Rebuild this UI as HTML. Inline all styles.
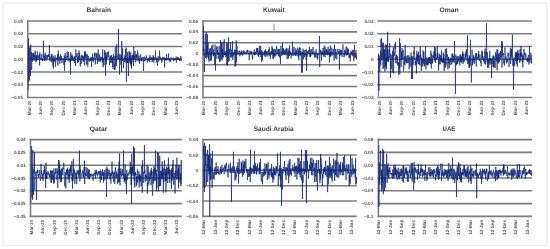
<!DOCTYPE html><html><head><meta charset="utf-8"><style>html,body{margin:0;padding:0;background:#fff;}svg{display:block;}text{font-family:"Liberation Sans",Arial,sans-serif;text-rendering:geometricPrecision;}</style></head><body>
<svg width="550" height="249" viewBox="0 0 550 249">
<rect x="0" y="0" width="550" height="249" fill="#fff"/>
<rect x="3.2" y="3.2" width="543.5" height="242.3" fill="none" stroke="#eeeeee" stroke-width="1.4"/>
<g stroke="#7d7d7d" stroke-width="1.6"><line x1="27.00" y1="20.95" x2="182.00" y2="20.95"/><line x1="27.00" y1="33.70" x2="182.00" y2="33.70"/><line x1="27.00" y1="46.45" x2="182.00" y2="46.45"/><line x1="27.00" y1="59.20" x2="182.00" y2="59.20"/><line x1="27.00" y1="71.95" x2="182.00" y2="71.95"/><line x1="27.00" y1="84.70" x2="182.00" y2="84.70"/><line x1="27.00" y1="97.45" x2="182.00" y2="97.45"/></g>
<line x1="27.80" y1="20.05" x2="27.80" y2="98.35" stroke="#7d7d7d" stroke-width="1.6"/>
<g font-size="4.7" font-weight="bold" fill="#595959" text-anchor="end"><text x="23.10" y="22.55">0.05</text><text x="23.10" y="35.30">0.03</text><text x="23.10" y="48.05">0.02</text><text x="23.10" y="60.80">0.00</text><text x="23.10" y="73.55">&#8722;0.02</text><text x="23.10" y="86.30">&#8722;0.03</text><text x="23.10" y="99.05">&#8722;0.05</text></g>
<g font-size="4.6" font-weight="bold" fill="#595959" text-anchor="end"><text transform="translate(30.60,100.40) rotate(-90)">Mar-20</text><text transform="translate(41.95,100.40) rotate(-90)">Jun-20</text><text transform="translate(53.30,100.40) rotate(-90)">Sep-20</text><text transform="translate(64.65,100.40) rotate(-90)">Dec-20</text><text transform="translate(76.00,100.40) rotate(-90)">Mar-21</text><text transform="translate(87.35,100.40) rotate(-90)">Jun-21</text><text transform="translate(98.70,100.40) rotate(-90)">Sep-21</text><text transform="translate(110.05,100.40) rotate(-90)">Dec-21</text><text transform="translate(121.40,100.40) rotate(-90)">Mar-22</text><text transform="translate(132.75,100.40) rotate(-90)">Jun-22</text><text transform="translate(144.10,100.40) rotate(-90)">Sep-22</text><text transform="translate(155.45,100.40) rotate(-90)">Dec-22</text><text transform="translate(166.80,100.40) rotate(-90)">Mar-23</text><text transform="translate(178.15,100.40) rotate(-90)">Jun-23</text></g>
<text x="98.80" y="12.20" font-size="6.6" font-weight="bold" fill="#404040" text-anchor="middle" textLength="24.4" lengthAdjust="spacingAndGlyphs">Bahrain</text>
<polyline fill="none" stroke="#0c2274" stroke-width="0.65" stroke-linejoin="round" points="28.10,90.00 28.32,52.00 28.54,38.40 28.77,81.80 28.99,47.00 29.21,61.16 29.43,80.00 29.65,50.00 29.88,48.00 30.10,57.04 30.32,58.07 30.54,76.00 30.76,44.50 30.99,58.84 31.21,55.86 31.43,52.00 31.65,70.00 31.87,59.93 32.10,56.88 32.32,61.72 32.54,57.19 32.76,53.18 32.98,56.85 33.21,53.40 33.43,56.89 33.65,59.00 33.87,52.53 34.09,60.96 34.32,54.79 34.54,55.97 34.76,59.54 34.98,57.95 35.20,50.56 35.42,54.10 35.65,61.27 35.87,62.05 36.09,55.03 36.31,55.88 36.53,61.42 36.76,56.06 36.98,59.82 37.20,51.46 37.42,52.90 37.64,55.04 37.87,60.33 38.09,57.54 38.31,55.45 38.53,56.14 38.75,58.17 38.98,57.71 39.20,55.67 39.42,54.01 39.64,65.51 39.86,52.33 40.09,57.48 40.31,59.84 40.53,59.00 40.75,58.11 40.97,58.89 41.20,59.43 41.42,58.72 41.64,54.21 41.86,54.21 42.08,60.91 42.31,58.54 42.53,58.70 42.75,61.16 42.97,59.66 43.19,56.22 43.42,40.80 43.64,57.42 43.86,54.30 44.08,57.33 44.30,60.80 44.53,55.77 44.75,60.92 44.97,59.30 45.19,52.67 45.41,54.86 45.64,54.94 45.86,59.54 46.08,54.74 46.30,57.30 46.52,58.13 46.75,60.61 46.97,58.49 47.19,56.33 47.41,55.52 47.63,58.38 47.85,54.81 48.08,54.96 48.30,56.69 48.52,54.25 48.74,56.90 48.96,56.00 49.19,54.85 49.41,45.00 49.63,60.50 49.85,56.38 50.07,57.20 50.30,61.25 50.52,58.75 50.74,58.30 50.96,57.70 51.18,55.60 51.41,54.21 51.63,62.25 51.85,55.40 52.07,54.14 52.29,57.19 52.52,58.34 52.74,60.03 52.96,66.46 53.18,55.71 53.40,68.50 53.63,58.61 53.85,60.87 54.07,60.49 54.29,57.50 54.51,60.36 54.74,62.07 54.96,58.38 55.18,55.25 55.40,66.73 55.62,64.53 55.85,59.34 56.07,59.61 56.29,58.30 56.51,57.81 56.73,60.17 56.96,60.16 57.18,57.37 57.40,59.10 57.62,53.93 57.84,65.71 58.07,60.52 58.29,50.46 58.51,54.62 58.73,60.54 58.95,60.66 59.18,58.47 59.40,59.31 59.62,56.56 59.84,63.97 60.06,58.86 60.28,59.93 60.51,54.38 60.73,60.36 60.95,59.41 61.17,59.60 61.39,57.58 61.62,56.13 61.84,62.98 62.06,62.88 62.28,60.60 62.50,58.37 62.73,58.64 62.95,58.25 63.17,59.81 63.39,60.22 63.61,59.24 63.84,64.82 64.06,61.48 64.28,55.53 64.50,71.00 64.72,62.21 64.95,58.43 65.17,52.83 65.39,62.19 65.61,59.60 65.83,57.40 66.06,56.18 66.28,58.78 66.50,60.11 66.72,60.19 66.94,58.39 67.17,51.58 67.39,57.22 67.61,55.94 67.83,60.28 68.05,61.45 68.28,58.16 68.50,52.00 68.72,55.03 68.94,55.56 69.16,60.14 69.39,59.06 69.61,60.17 69.83,58.70 70.05,62.38 70.27,58.82 70.50,74.60 70.72,52.13 70.94,58.84 71.16,60.68 71.38,60.96 71.61,56.17 71.83,57.42 72.05,54.28 72.27,60.91 72.49,56.63 72.72,59.14 72.94,58.24 73.16,57.56 73.38,58.35 73.60,60.90 73.82,60.04 74.05,60.80 74.27,56.27 74.49,63.01 74.71,57.70 74.93,57.30 75.16,56.65 75.38,58.68 75.60,66.00 75.82,49.35 76.04,57.03 76.27,55.55 76.49,56.81 76.71,57.31 76.93,56.57 77.15,52.96 77.38,63.09 77.60,58.07 77.82,60.29 78.04,61.71 78.26,56.12 78.49,62.07 78.71,55.61 78.93,50.47 79.15,59.23 79.37,60.29 79.60,52.82 79.82,56.29 80.04,56.15 80.26,66.50 80.48,62.26 80.71,58.89 80.93,58.31 81.15,63.98 81.37,55.16 81.59,56.23 81.82,60.17 82.04,58.23 82.26,55.40 82.48,55.57 82.70,57.64 82.93,55.87 83.15,61.72 83.37,56.42 83.59,61.66 83.81,57.19 84.04,58.71 84.26,57.04 84.48,51.20 84.70,65.47 84.92,60.32 85.15,53.86 85.37,55.27 85.59,51.53 85.81,57.62 86.03,53.52 86.25,58.13 86.48,57.57 86.70,64.61 86.92,55.01 87.14,56.36 87.36,54.46 87.59,58.72 87.81,66.73 88.03,57.01 88.25,57.47 88.47,56.27 88.70,60.56 88.92,61.49 89.14,60.48 89.36,59.11 89.58,61.42 89.81,59.24 90.03,58.67 90.25,58.05 90.47,60.86 90.69,58.34 90.92,59.83 91.14,57.16 91.36,60.75 91.58,67.02 91.80,59.65 92.03,56.93 92.25,61.30 92.47,53.60 92.69,58.39 92.91,59.14 93.14,57.70 93.36,57.90 93.58,61.69 93.80,59.61 94.02,57.47 94.25,58.72 94.47,53.32 94.69,56.24 94.91,52.47 95.13,58.12 95.36,64.44 95.58,57.95 95.80,58.22 96.02,58.84 96.24,53.21 96.47,57.98 96.69,55.58 96.91,56.31 97.13,53.29 97.35,63.94 97.58,58.06 97.80,60.39 98.02,60.50 98.24,49.48 98.46,57.00 98.68,58.35 98.91,61.85 99.13,60.57 99.35,54.56 99.57,57.38 99.79,61.54 100.02,60.31 100.24,59.68 100.46,60.92 100.68,61.60 100.90,56.52 101.13,60.36 101.35,57.07 101.57,58.03 101.79,58.76 102.01,59.85 102.24,57.52 102.46,62.45 102.68,49.30 102.90,57.27 103.12,67.35 103.35,59.92 103.57,58.48 103.79,62.04 104.01,65.21 104.23,59.78 104.46,56.47 104.68,49.97 104.90,59.10 105.12,55.20 105.34,51.90 105.57,75.80 105.79,56.75 106.01,61.77 106.23,52.75 106.45,64.34 106.68,55.54 106.90,58.31 107.12,58.78 107.34,57.02 107.56,52.21 107.79,55.69 108.01,56.91 108.23,57.28 108.45,55.07 108.67,51.41 108.90,57.10 109.12,56.91 109.34,57.77 109.56,65.12 109.78,59.04 110.01,57.29 110.23,55.73 110.45,62.62 110.67,60.44 110.89,56.38 111.12,60.42 111.34,54.83 111.56,58.54 111.78,63.00 112.00,59.81 112.22,60.37 112.45,57.17 112.67,66.83 112.89,61.20 113.11,69.01 113.33,53.96 113.56,55.54 113.78,60.35 114.00,57.11 114.22,56.21 114.44,70.00 114.67,64.21 114.89,64.40 115.11,69.58 115.33,47.35 115.55,65.83 115.78,55.84 116.00,57.78 116.22,62.73 116.44,66.00 116.66,44.50 116.89,54.69 117.11,56.80 117.33,55.48 117.55,58.65 117.77,59.69 118.00,59.59 118.22,59.35 118.44,29.00 118.66,59.05 118.88,54.53 119.11,53.72 119.33,56.10 119.55,74.60 119.77,57.73 119.99,57.78 120.22,54.34 120.44,59.69 120.66,58.87 120.88,64.59 121.10,62.98 121.33,55.51 121.55,72.00 121.77,41.00 121.99,57.97 122.21,60.98 122.44,52.02 122.66,48.37 122.88,60.33 123.10,59.23 123.32,60.54 123.55,68.00 123.77,61.16 123.99,60.19 124.21,57.62 124.43,58.20 124.65,62.03 124.88,55.39 125.10,57.90 125.32,59.76 125.54,49.00 125.76,60.31 125.99,62.91 126.21,47.66 126.43,81.80 126.65,62.46 126.87,59.35 127.10,57.90 127.32,62.68 127.54,52.17 127.76,63.16 127.98,60.29 128.21,58.54 128.43,76.00 128.65,60.11 128.87,56.45 129.09,50.90 129.32,60.34 129.54,52.32 129.76,62.63 129.98,56.74 130.20,61.16 130.43,63.99 130.65,52.74 130.87,52.37 131.09,66.00 131.31,58.42 131.54,68.50 131.76,57.62 131.98,55.50 132.20,58.60 132.42,59.16 132.65,55.04 132.87,58.19 133.09,62.51 133.31,53.45 133.53,66.00 133.76,46.90 133.98,57.27 134.20,58.52 134.42,56.02 134.64,59.49 134.87,53.78 135.09,50.93 135.31,60.25 135.53,62.29 135.75,59.65 135.98,54.43 136.20,58.41 136.42,54.43 136.64,56.69 136.86,55.38 137.08,61.30 137.31,58.37 137.53,50.50 137.75,54.14 137.97,53.08 138.19,56.71 138.42,59.32 138.64,60.55 138.86,55.51 139.08,61.61 139.30,58.01 139.53,64.00 139.75,60.45 139.97,61.33 140.19,57.61 140.41,57.51 140.64,54.48 140.86,55.71 141.08,60.87 141.30,57.71 141.52,58.49 141.75,61.21 141.97,57.99 142.19,58.29 142.41,59.17 142.63,57.10 142.86,57.89 143.08,57.07 143.30,62.56 143.52,71.00 143.74,59.08 143.97,60.63 144.19,61.11 144.41,56.57 144.63,58.53 144.85,59.52 145.08,61.15 145.30,58.09 145.52,57.77 145.74,57.77 145.96,58.36 146.19,58.26 146.41,55.55 146.63,59.69 146.85,59.40 147.07,59.73 147.30,62.35 147.52,58.81 147.74,60.11 147.96,58.28 148.18,57.92 148.41,59.51 148.63,61.14 148.85,57.82 149.07,58.74 149.29,57.56 149.52,60.00 149.74,62.05 149.96,55.27 150.18,58.75 150.40,59.76 150.62,59.05 150.85,59.54 151.07,56.97 151.29,58.54 151.51,59.52 151.73,57.75 151.96,59.58 152.18,62.24 152.40,59.65 152.62,58.26 152.84,60.02 153.07,55.11 153.29,60.04 153.51,56.51 153.73,62.76 153.95,60.26 154.18,57.04 154.40,59.24 154.62,58.94 154.84,60.27 155.06,58.68 155.29,58.97 155.51,50.50 155.73,58.82 155.95,57.99 156.17,57.62 156.40,60.26 156.62,62.41 156.84,57.90 157.06,58.92 157.28,59.41 157.51,66.00 157.73,58.68 157.95,58.88 158.17,56.24 158.39,58.05 158.62,61.80 158.84,61.09 159.06,60.98 159.28,59.81 159.50,50.50 159.73,58.81 159.95,58.82 160.17,56.85 160.39,57.90 160.61,59.75 160.84,59.03 161.06,58.56 161.28,57.96 161.50,58.45 161.72,62.69 161.95,59.59 162.17,60.64 162.39,59.76 162.61,57.58 162.83,58.73 163.05,57.23 163.28,58.94 163.50,58.86 163.72,58.71 163.94,56.81 164.16,59.37 164.39,59.64 164.61,67.30 164.83,58.15 165.05,60.42 165.27,57.96 165.50,59.91 165.72,57.92 165.94,59.16 166.16,60.54 166.38,57.97 166.61,54.00 166.83,59.93 167.05,59.30 167.27,60.13 167.49,58.74 167.72,58.06 167.94,57.85 168.16,57.73 168.38,59.74 168.60,53.40 168.83,59.12 169.05,58.41 169.27,61.50 169.49,60.30 169.71,58.63 169.94,61.05 170.16,59.07 170.38,59.37 170.60,62.11 170.82,60.28 171.05,57.27 171.27,59.03 171.49,58.32 171.71,58.90 171.93,59.42 172.16,58.98 172.38,59.21 172.60,59.12 172.82,58.27 173.04,58.68 173.27,57.74 173.49,60.84 173.71,59.25 173.93,60.41 174.15,58.85 174.38,60.14 174.60,58.23 174.82,58.48 175.04,60.25 175.26,58.61 175.48,59.43 175.71,58.82 175.93,58.95 176.15,56.48 176.37,62.70 176.59,60.76 176.82,58.50 177.04,59.00 177.26,59.02 177.48,56.94 177.70,59.21 177.93,58.34 178.15,59.46 178.37,58.13 178.59,57.26 178.81,58.57 179.04,59.70 179.26,59.98 179.48,61.03 179.70,59.31 179.92,57.96 180.15,60.98 180.37,58.80 180.59,58.96 180.81,55.93 181.03,57.30 181.26,58.24 181.48,60.79 181.70,60.32"/>
<g stroke="#7d7d7d" stroke-width="1.6"><line x1="202.20" y1="20.95" x2="357.00" y2="20.95"/><line x1="202.20" y1="31.89" x2="357.00" y2="31.89"/><line x1="202.20" y1="42.82" x2="357.00" y2="42.82"/><line x1="202.20" y1="53.76" x2="357.00" y2="53.76"/><line x1="202.20" y1="64.69" x2="357.00" y2="64.69"/><line x1="202.20" y1="75.63" x2="357.00" y2="75.63"/><line x1="202.20" y1="86.56" x2="357.00" y2="86.56"/><line x1="202.20" y1="97.50" x2="357.00" y2="97.50"/></g>
<line x1="203.00" y1="20.05" x2="203.00" y2="98.40" stroke="#7d7d7d" stroke-width="1.6"/>
<g font-size="4.7" font-weight="bold" fill="#595959" text-anchor="end"><text x="198.00" y="22.55">0.06</text><text x="198.00" y="33.49">0.04</text><text x="198.00" y="44.42">0.02</text><text x="198.00" y="55.36">0</text><text x="198.00" y="66.29">&#8722;0.02</text><text x="198.00" y="77.23">&#8722;0.04</text><text x="198.00" y="88.16">&#8722;0.06</text><text x="198.00" y="99.10">&#8722;0.08</text></g>
<g font-size="4.6" font-weight="bold" fill="#595959" text-anchor="end"><text transform="translate(205.30,100.40) rotate(-90)">Mar-20</text><text transform="translate(216.70,100.40) rotate(-90)">Jun-20</text><text transform="translate(228.10,100.40) rotate(-90)">Sep-20</text><text transform="translate(239.50,100.40) rotate(-90)">Dec-20</text><text transform="translate(250.90,100.40) rotate(-90)">Mar-21</text><text transform="translate(262.30,100.40) rotate(-90)">Jun-21</text><text transform="translate(273.70,100.40) rotate(-90)">Sep-21</text><text transform="translate(285.10,100.40) rotate(-90)">Dec-21</text><text transform="translate(296.50,100.40) rotate(-90)">Mar-22</text><text transform="translate(307.90,100.40) rotate(-90)">Jun-22</text><text transform="translate(319.30,100.40) rotate(-90)">Sep-22</text><text transform="translate(330.70,100.40) rotate(-90)">Dec-22</text><text transform="translate(342.10,100.40) rotate(-90)">Mar-23</text><text transform="translate(353.50,100.40) rotate(-90)">Jun-23</text></g>
<text x="273.80" y="12.00" font-size="6.6" font-weight="bold" fill="#404040" text-anchor="middle" textLength="21.8" lengthAdjust="spacingAndGlyphs">Kuwait</text>
<polyline fill="none" stroke="#0c2274" stroke-width="0.65" stroke-linejoin="round" points="203.30,55.83 203.52,25.60 203.74,50.51 203.97,49.20 204.19,49.29 204.41,72.00 204.63,54.56 204.85,54.37 205.07,47.73 205.30,33.84 205.52,57.94 205.74,56.81 205.96,52.54 206.18,51.15 206.40,32.00 206.63,58.69 206.85,46.32 207.07,45.96 207.29,53.55 207.51,34.40 207.73,56.94 207.96,42.71 208.18,42.00 208.40,59.72 208.62,53.13 208.84,52.49 209.06,61.77 209.29,51.21 209.51,52.46 209.73,48.59 209.95,50.29 210.17,54.34 210.39,60.90 210.62,48.21 210.84,51.94 211.06,54.99 211.28,51.79 211.50,60.47 211.72,45.65 211.95,50.28 212.17,53.51 212.39,52.53 212.61,48.84 212.83,44.61 213.05,55.46 213.28,56.19 213.50,53.00 213.72,49.50 213.94,55.50 214.16,52.21 214.38,56.05 214.61,64.50 214.83,56.00 215.05,44.52 215.27,45.33 215.49,70.50 215.71,54.69 215.94,55.34 216.16,58.62 216.38,49.42 216.60,46.51 216.82,52.55 217.04,52.15 217.27,54.21 217.49,50.53 217.71,54.60 217.93,46.30 218.15,58.83 218.37,56.07 218.60,52.22 218.82,53.53 219.04,54.86 219.26,57.09 219.48,61.89 219.70,45.91 219.93,46.74 220.15,49.70 220.37,61.36 220.59,40.40 220.81,46.41 221.03,55.94 221.26,59.27 221.48,42.75 221.70,52.55 221.92,50.04 222.14,60.45 222.36,49.22 222.59,57.05 222.81,46.94 223.03,41.96 223.25,51.76 223.47,57.48 223.69,51.02 223.92,47.92 224.14,39.35 224.36,39.39 224.58,55.33 224.80,52.01 225.02,54.96 225.25,50.85 225.47,55.23 225.69,57.17 225.91,52.94 226.13,54.84 226.35,55.28 226.58,42.13 226.80,64.90 227.02,55.69 227.24,49.84 227.46,65.70 227.68,43.52 227.91,52.85 228.13,53.70 228.35,61.79 228.57,37.30 228.79,56.86 229.01,59.27 229.24,61.15 229.46,48.86 229.68,52.38 229.90,53.52 230.12,51.11 230.34,48.67 230.57,42.22 230.79,57.51 231.01,53.63 231.23,57.11 231.45,51.41 231.67,49.63 231.90,54.97 232.12,57.76 232.34,55.52 232.56,41.00 232.78,60.04 233.00,54.99 233.23,52.73 233.45,53.37 233.67,55.48 233.89,53.79 234.11,52.07 234.33,54.24 234.56,49.64 234.78,53.26 235.00,66.70 235.22,51.96 235.44,51.73 235.66,49.85 235.89,65.71 236.11,40.39 236.33,46.19 236.55,62.00 236.77,49.91 236.99,45.85 237.22,52.23 237.44,54.39 237.66,50.72 237.88,50.95 238.10,53.43 238.32,53.79 238.55,52.92 238.77,54.45 238.99,54.01 239.21,50.84 239.43,51.75 239.65,50.80 239.88,56.38 240.10,53.59 240.32,52.50 240.54,54.26 240.76,54.18 240.98,51.51 241.21,51.57 241.43,54.64 241.65,50.61 241.87,51.30 242.09,50.90 242.32,53.53 242.54,55.79 242.76,55.83 242.98,54.36 243.20,52.00 243.42,50.61 243.65,50.84 243.87,53.54 244.09,50.70 244.31,54.20 244.53,51.93 244.75,51.79 244.98,52.53 245.20,53.89 245.42,53.17 245.64,52.23 245.86,52.13 246.08,52.12 246.31,54.18 246.53,51.28 246.75,52.41 246.97,49.80 247.19,50.29 247.41,50.01 247.64,52.80 247.86,50.52 248.08,50.57 248.30,54.21 248.52,53.98 248.74,53.01 248.97,54.08 249.19,60.20 249.41,55.48 249.63,51.70 249.85,50.68 250.07,50.56 250.30,51.00 250.52,54.46 250.74,51.69 250.96,53.19 251.18,53.85 251.40,51.92 251.63,53.51 251.85,51.03 252.07,56.91 252.29,56.50 252.51,59.48 252.73,58.17 252.96,54.83 253.18,54.64 253.40,52.46 253.62,52.09 253.84,54.20 254.06,53.56 254.29,49.29 254.51,52.77 254.73,55.40 254.95,53.23 255.17,54.61 255.39,51.93 255.62,53.77 255.84,53.67 256.06,51.55 256.28,53.76 256.50,47.93 256.72,51.25 256.95,52.37 257.17,48.44 257.39,52.03 257.61,48.49 257.83,48.17 258.05,55.74 258.28,50.90 258.50,57.11 258.72,56.21 258.94,52.58 259.16,54.99 259.38,45.73 259.61,53.11 259.83,52.89 260.05,52.66 260.27,51.34 260.49,54.70 260.71,45.80 260.94,57.04 261.16,52.52 261.38,50.02 261.60,62.00 261.82,51.39 262.04,53.90 262.27,53.57 262.49,60.28 262.71,51.64 262.93,55.40 263.15,54.06 263.37,53.63 263.60,53.87 263.82,54.33 264.04,51.58 264.26,52.51 264.48,51.28 264.70,56.39 264.93,50.29 265.15,53.87 265.37,52.68 265.59,49.45 265.81,56.96 266.03,55.26 266.26,51.26 266.48,54.07 266.70,55.20 266.92,55.00 267.14,51.28 267.36,51.19 267.59,53.39 267.81,56.33 268.03,56.54 268.25,51.72 268.47,49.52 268.69,54.05 268.92,53.32 269.14,53.78 269.36,47.46 269.58,53.66 269.80,55.93 270.02,52.84 270.25,58.78 270.47,57.30 270.69,52.29 270.91,54.81 271.13,52.41 271.35,51.00 271.58,54.18 271.80,53.77 272.02,46.14 272.24,53.70 272.46,48.23 272.68,53.87 272.91,58.67 273.13,53.73 273.35,49.50 273.57,58.56 273.79,56.33 274.01,50.26 274.24,48.98 274.46,56.60 274.68,53.93 274.90,56.51 275.12,52.23 275.34,49.49 275.57,54.57 275.79,55.79 276.01,53.21 276.23,49.99 276.45,48.28 276.67,46.13 276.90,54.00 277.12,53.87 277.34,52.32 277.56,53.40 277.78,48.78 278.00,50.30 278.23,56.05 278.45,55.08 278.67,49.08 278.89,54.17 279.11,56.34 279.33,49.10 279.56,54.56 279.78,57.59 280.00,54.97 280.22,55.92 280.44,64.00 280.67,53.43 280.89,45.71 281.11,53.21 281.33,52.05 281.55,53.93 281.77,55.79 282.00,50.72 282.22,52.46 282.44,43.00 282.66,54.79 282.88,53.98 283.10,51.91 283.33,47.97 283.55,53.92 283.77,49.05 283.99,55.02 284.21,54.85 284.43,50.53 284.66,53.58 284.88,52.23 285.10,54.35 285.32,53.65 285.54,52.56 285.76,49.07 285.99,55.19 286.21,53.65 286.43,47.87 286.65,53.34 286.87,51.76 287.09,59.09 287.32,57.01 287.54,53.62 287.76,50.70 287.98,48.23 288.20,53.60 288.42,58.61 288.65,52.19 288.87,55.20 289.09,49.94 289.31,56.02 289.53,45.57 289.75,53.12 289.98,50.81 290.20,54.94 290.42,52.00 290.64,52.73 290.86,55.40 291.08,58.57 291.31,57.00 291.53,54.56 291.75,53.62 291.97,53.07 292.19,55.73 292.41,41.70 292.64,53.56 292.86,49.29 293.08,52.68 293.30,55.50 293.52,55.63 293.74,53.15 293.97,46.62 294.19,53.56 294.41,55.23 294.63,54.24 294.85,52.77 295.07,52.30 295.30,51.74 295.52,55.97 295.74,48.28 295.96,51.72 296.18,54.43 296.40,50.43 296.63,50.12 296.85,55.42 297.07,56.14 297.29,54.68 297.51,54.31 297.73,47.73 297.96,53.57 298.18,54.20 298.40,57.55 298.62,49.43 298.84,60.21 299.06,52.38 299.29,52.33 299.51,47.32 299.73,55.29 299.95,51.85 300.17,47.79 300.39,55.57 300.62,52.79 300.84,54.92 301.06,51.03 301.28,57.67 301.50,72.60 301.72,55.35 301.95,54.45 302.17,52.07 302.39,72.60 302.61,52.65 302.83,54.04 303.05,48.62 303.28,55.89 303.50,59.28 303.72,52.40 303.94,50.58 304.16,54.77 304.38,53.35 304.61,57.24 304.83,50.35 305.05,50.71 305.27,50.03 305.49,55.25 305.71,54.51 305.94,54.65 306.16,60.10 306.38,49.22 306.60,71.00 306.82,53.98 307.04,57.01 307.27,53.26 307.49,51.49 307.71,53.62 307.93,52.70 308.15,50.89 308.37,50.52 308.60,52.76 308.82,54.13 309.04,49.87 309.26,51.56 309.48,46.97 309.70,52.44 309.93,57.00 310.15,49.54 310.37,57.04 310.59,53.88 310.81,55.98 311.03,52.77 311.26,53.44 311.48,53.15 311.70,49.01 311.92,52.08 312.14,54.14 312.36,52.24 312.59,51.95 312.81,54.33 313.03,47.01 313.25,53.08 313.47,52.94 313.69,52.67 313.92,54.27 314.14,53.03 314.36,53.75 314.58,57.60 314.80,51.32 315.02,52.86 315.25,54.54 315.47,56.10 315.69,57.41 315.91,50.29 316.13,49.17 316.35,52.97 316.58,52.85 316.80,53.13 317.02,58.21 317.24,52.88 317.46,53.88 317.68,59.60 317.91,57.34 318.13,53.59 318.35,54.43 318.57,52.74 318.79,52.84 319.02,52.91 319.24,50.96 319.46,36.00 319.68,67.00 319.90,53.21 320.12,52.42 320.35,50.03 320.57,52.66 320.79,53.05 321.01,50.29 321.23,55.34 321.45,60.59 321.68,54.15 321.90,51.75 322.12,55.10 322.34,52.05 322.56,52.85 322.78,54.65 323.01,47.97 323.23,53.58 323.45,53.35 323.67,56.67 323.89,56.06 324.11,45.69 324.34,54.97 324.56,50.94 324.78,52.36 325.00,57.03 325.22,46.98 325.44,49.65 325.67,50.46 325.89,54.14 326.11,54.93 326.33,49.13 326.55,53.33 326.77,49.70 327.00,54.00 327.22,50.51 327.44,53.50 327.66,55.26 327.88,51.11 328.10,46.83 328.33,54.61 328.55,54.62 328.77,52.26 328.99,53.32 329.21,49.00 329.43,62.70 329.66,52.96 329.88,53.63 330.10,55.61 330.32,45.63 330.54,56.79 330.76,52.09 330.99,55.74 331.21,53.22 331.43,53.98 331.65,53.66 331.87,47.71 332.09,55.62 332.32,51.86 332.54,53.64 332.76,51.59 332.98,51.51 333.20,51.13 333.42,49.22 333.65,54.41 333.87,53.78 334.09,60.48 334.31,53.28 334.53,44.65 334.75,51.62 334.98,53.13 335.20,52.36 335.42,58.42 335.64,48.89 335.86,49.78 336.08,53.14 336.31,52.28 336.53,56.98 336.75,59.49 336.97,54.67 337.19,52.41 337.41,51.20 337.64,51.16 337.86,48.83 338.08,51.85 338.30,52.80 338.52,51.26 338.74,53.75 338.97,51.86 339.19,55.58 339.41,69.80 339.63,49.35 339.85,49.21 340.07,55.78 340.30,50.84 340.52,50.28 340.74,52.37 340.96,51.40 341.18,54.32 341.40,49.78 341.63,53.19 341.85,54.80 342.07,56.97 342.29,55.48 342.51,54.13 342.73,49.13 342.96,44.44 343.18,53.37 343.40,53.43 343.62,53.58 343.84,55.02 344.06,57.34 344.29,54.13 344.51,55.08 344.73,49.65 344.95,55.47 345.17,54.14 345.39,51.00 345.62,53.85 345.84,50.67 346.06,47.95 346.28,46.30 346.50,55.46 346.72,51.80 346.95,51.62 347.17,47.72 347.39,48.17 347.61,54.71 347.83,49.88 348.05,55.08 348.28,48.82 348.50,49.56 348.72,54.06 348.94,58.06 349.16,57.62 349.38,55.34 349.61,55.19 349.83,57.61 350.05,54.15 350.27,61.45 350.49,56.25 350.71,55.31 350.94,51.13 351.16,53.71 351.38,52.12 351.60,54.18 351.82,52.91 352.04,55.22 352.27,49.89 352.49,52.98 352.71,56.23 352.93,55.61 353.15,52.73 353.37,49.93 353.60,53.22 353.82,61.07 354.04,55.34 354.26,52.10 354.48,44.88 354.70,55.16 354.93,58.36 355.15,53.62 355.37,57.50 355.59,52.87 355.81,52.57 356.03,50.04 356.26,54.41 356.48,59.38 356.70,54.77"/>
<g stroke="#7d7d7d" stroke-width="1.6"><line x1="377.20" y1="20.95" x2="532.00" y2="20.95"/><line x1="377.20" y1="33.71" x2="532.00" y2="33.71"/><line x1="377.20" y1="46.47" x2="532.00" y2="46.47"/><line x1="377.20" y1="59.22" x2="532.00" y2="59.22"/><line x1="377.20" y1="71.98" x2="532.00" y2="71.98"/><line x1="377.20" y1="84.74" x2="532.00" y2="84.74"/><line x1="377.20" y1="97.50" x2="532.00" y2="97.50"/></g>
<g font-size="4.7" font-weight="bold" fill="#595959" text-anchor="end"><text x="373.50" y="22.55">0.03</text><text x="373.50" y="35.31">0.02</text><text x="373.50" y="48.07">0.01</text><text x="373.50" y="60.82">0</text><text x="373.50" y="73.58">&#8722;0.01</text><text x="373.50" y="86.34">&#8722;0.02</text><text x="373.50" y="99.10">&#8722;0.03</text></g>
<g font-size="4.6" font-weight="bold" fill="#595959" text-anchor="end"><text transform="translate(380.50,100.40) rotate(-90)">Mar-20</text><text transform="translate(391.86,100.40) rotate(-90)">Jun-20</text><text transform="translate(403.22,100.40) rotate(-90)">Sep-20</text><text transform="translate(414.58,100.40) rotate(-90)">Dec-20</text><text transform="translate(425.94,100.40) rotate(-90)">Mar-21</text><text transform="translate(437.30,100.40) rotate(-90)">Jun-21</text><text transform="translate(448.66,100.40) rotate(-90)">Sep-21</text><text transform="translate(460.02,100.40) rotate(-90)">Dec-21</text><text transform="translate(471.38,100.40) rotate(-90)">Mar-22</text><text transform="translate(482.74,100.40) rotate(-90)">Jun-22</text><text transform="translate(494.10,100.40) rotate(-90)">Sep-22</text><text transform="translate(505.46,100.40) rotate(-90)">Dec-22</text><text transform="translate(516.82,100.40) rotate(-90)">Mar-23</text><text transform="translate(528.18,100.40) rotate(-90)">Jun-23</text></g>
<text x="449.10" y="11.80" font-size="6.6" font-weight="bold" fill="#404040" text-anchor="middle" textLength="19" lengthAdjust="spacingAndGlyphs">Oman</text>
<polyline fill="none" stroke="#0c2274" stroke-width="0.65" stroke-linejoin="round" points="378.30,96.46 378.52,53.70 378.74,80.40 378.97,90.72 379.19,55.62 379.41,55.61 379.63,69.45 379.85,71.52 380.07,57.10 380.30,55.43 380.52,50.78 380.74,65.28 380.96,39.39 381.18,46.62 381.40,38.00 381.63,60.06 381.85,60.18 382.07,52.87 382.29,57.39 382.51,42.65 382.73,48.34 382.96,69.02 383.18,62.63 383.40,42.85 383.62,59.68 383.84,49.09 384.06,68.23 384.29,49.45 384.51,60.43 384.73,50.32 384.95,71.51 385.17,56.25 385.39,44.45 385.62,67.10 385.84,58.52 386.06,65.20 386.28,57.48 386.50,69.20 386.72,44.57 386.95,60.57 387.17,49.76 387.39,60.63 387.61,31.80 387.83,61.43 388.05,56.00 388.28,62.23 388.50,60.49 388.72,58.20 388.94,49.52 389.16,58.21 389.38,57.95 389.61,43.25 389.83,49.96 390.05,54.46 390.27,57.35 390.49,77.93 390.71,53.82 390.94,63.71 391.16,68.93 391.38,64.13 391.60,63.01 391.82,56.02 392.04,54.78 392.27,72.51 392.49,53.31 392.71,50.66 392.93,58.84 393.15,59.42 393.37,47.18 393.60,73.40 393.82,54.64 394.04,51.86 394.26,55.82 394.48,54.12 394.70,50.68 394.93,43.98 395.15,48.84 395.37,41.87 395.59,42.50 395.81,63.07 396.03,56.41 396.26,58.85 396.48,54.66 396.70,56.77 396.92,58.47 397.14,64.20 397.36,58.23 397.59,55.77 397.81,65.55 398.03,62.06 398.25,62.38 398.47,64.62 398.69,74.92 398.92,62.10 399.14,63.66 399.36,68.68 399.58,38.00 399.80,74.18 400.02,59.02 400.25,43.06 400.47,47.97 400.69,53.17 400.91,64.08 401.13,66.70 401.35,51.36 401.58,58.35 401.80,59.91 402.02,48.11 402.24,51.39 402.46,59.61 402.68,59.10 402.91,59.30 403.13,49.95 403.35,70.36 403.57,71.34 403.79,69.54 404.01,61.69 404.24,63.57 404.46,57.11 404.68,56.30 404.90,65.36 405.12,44.70 405.34,55.04 405.57,61.61 405.79,61.39 406.01,55.78 406.23,57.00 406.45,63.17 406.67,61.91 406.90,59.60 407.12,63.29 407.34,57.11 407.56,55.57 407.78,55.20 408.00,63.05 408.23,62.98 408.45,61.16 408.67,58.90 408.89,55.31 409.11,69.11 409.33,62.78 409.56,60.24 409.78,56.99 410.00,58.62 410.22,66.50 410.44,60.96 410.66,60.35 410.89,55.31 411.11,52.65 411.33,55.32 411.55,79.00 411.77,60.35 411.99,56.12 412.22,63.48 412.44,79.00 412.66,57.14 412.88,56.43 413.10,65.14 413.32,60.20 413.55,59.29 413.77,51.29 413.99,54.63 414.21,46.98 414.43,58.80 414.65,57.81 414.88,60.45 415.10,62.46 415.32,65.68 415.54,61.02 415.76,63.90 415.98,61.13 416.21,56.64 416.43,73.40 416.65,60.40 416.87,50.79 417.09,60.22 417.32,53.83 417.54,61.58 417.76,54.94 417.98,61.68 418.20,64.28 418.42,59.81 418.65,51.78 418.87,64.10 419.09,58.38 419.31,55.23 419.53,63.22 419.75,65.27 419.98,65.43 420.20,46.84 420.42,57.11 420.64,54.93 420.86,60.45 421.08,61.85 421.31,71.02 421.53,57.26 421.75,64.19 421.97,66.94 422.19,59.28 422.41,60.92 422.64,59.82 422.86,65.71 423.08,50.41 423.30,57.52 423.52,63.47 423.74,51.97 423.97,51.72 424.19,60.33 424.41,66.42 424.63,59.94 424.85,65.09 425.07,61.53 425.30,58.73 425.52,46.70 425.74,61.78 425.96,69.30 426.18,57.15 426.40,63.62 426.63,64.57 426.85,60.76 427.07,61.37 427.29,65.24 427.51,59.83 427.73,58.97 427.96,65.25 428.18,57.12 428.40,63.58 428.62,60.96 428.84,58.46 429.06,59.11 429.29,56.98 429.51,63.15 429.73,57.03 429.95,59.81 430.17,59.71 430.39,64.12 430.62,57.30 430.84,50.64 431.06,58.15 431.28,68.52 431.50,66.62 431.72,53.47 431.95,57.26 432.17,63.70 432.39,58.79 432.61,63.02 432.83,55.79 433.05,57.28 433.28,55.06 433.50,57.73 433.72,56.83 433.94,51.23 434.16,57.75 434.38,58.68 434.61,46.70 434.83,61.22 435.05,61.84 435.27,47.49 435.49,62.87 435.71,53.44 435.94,56.00 436.16,58.71 436.38,59.90 436.60,58.29 436.82,57.99 437.04,58.13 437.27,46.03 437.49,58.29 437.71,55.11 437.93,52.81 438.15,56.43 438.37,61.00 438.60,70.60 438.82,56.58 439.04,64.45 439.26,59.18 439.48,54.63 439.70,53.81 439.93,58.95 440.15,64.39 440.37,55.31 440.59,60.05 440.81,60.16 441.03,57.84 441.26,61.73 441.48,50.58 441.70,61.48 441.92,58.65 442.14,59.74 442.36,62.72 442.59,59.17 442.81,62.73 443.03,61.03 443.25,52.54 443.47,62.81 443.69,56.76 443.92,54.47 444.14,70.96 444.36,61.29 444.58,61.67 444.80,58.00 445.02,67.71 445.25,49.01 445.47,55.50 445.69,67.10 445.91,61.98 446.13,64.50 446.35,61.74 446.58,48.25 446.80,57.31 447.02,54.03 447.24,54.31 447.46,57.73 447.68,61.81 447.91,69.31 448.13,56.88 448.35,61.03 448.57,56.88 448.79,63.42 449.01,59.26 449.24,68.06 449.46,58.84 449.68,60.41 449.90,63.16 450.12,64.89 450.34,62.35 450.57,57.88 450.79,60.57 451.01,58.92 451.23,62.44 451.45,64.47 451.67,56.58 451.90,53.68 452.12,58.76 452.34,61.37 452.56,62.70 452.78,53.49 453.00,57.05 453.23,56.08 453.45,61.81 453.67,57.11 453.89,55.88 454.11,61.59 454.33,62.42 454.56,41.00 454.78,59.38 455.00,61.86 455.22,62.53 455.44,94.00 455.67,61.63 455.89,54.73 456.11,65.29 456.33,62.44 456.55,64.40 456.77,60.76 457.00,56.27 457.22,63.31 457.44,60.70 457.66,64.20 457.88,56.04 458.10,57.44 458.33,58.90 458.55,61.64 458.77,59.21 458.99,56.67 459.21,56.70 459.43,60.37 459.66,64.77 459.88,65.32 460.10,54.48 460.32,61.20 460.54,55.10 460.76,57.09 460.99,62.14 461.21,57.17 461.43,62.71 461.65,56.54 461.87,60.29 462.09,54.91 462.32,54.17 462.54,59.11 462.76,51.36 462.98,64.10 463.20,59.71 463.42,62.10 463.65,53.49 463.87,56.74 464.09,57.15 464.31,61.79 464.53,60.66 464.75,60.81 464.98,60.46 465.20,53.78 465.42,56.83 465.64,58.91 465.86,51.43 466.08,56.00 466.31,56.38 466.53,49.27 466.75,58.13 466.97,61.47 467.19,59.78 467.41,35.40 467.64,61.04 467.86,64.21 468.08,60.24 468.30,63.36 468.52,61.49 468.74,58.21 468.97,67.73 469.19,55.33 469.41,67.86 469.63,63.56 469.85,56.19 470.07,65.70 470.30,61.98 470.52,39.70 470.74,60.23 470.96,59.76 471.18,67.81 471.40,82.50 471.63,64.05 471.85,63.36 472.07,49.77 472.29,55.71 472.51,65.28 472.73,59.78 472.96,61.87 473.18,62.40 473.40,54.98 473.62,55.64 473.84,60.05 474.06,57.29 474.29,63.90 474.51,59.22 474.73,60.61 474.95,58.82 475.17,56.57 475.39,58.51 475.62,53.21 475.84,61.08 476.06,62.13 476.28,66.76 476.50,53.17 476.72,56.36 476.95,56.46 477.17,59.93 477.39,59.23 477.61,56.92 477.83,58.01 478.05,57.44 478.28,53.75 478.50,58.35 478.72,50.92 478.94,60.14 479.16,59.27 479.38,60.85 479.61,59.59 479.83,54.43 480.05,55.97 480.27,58.31 480.49,62.69 480.71,60.50 480.94,62.51 481.16,66.32 481.38,60.57 481.60,59.06 481.82,50.72 482.04,58.23 482.27,51.72 482.49,55.26 482.71,59.61 482.93,55.64 483.15,59.61 483.37,60.75 483.60,58.58 483.82,61.61 484.04,60.02 484.26,63.87 484.48,60.47 484.70,52.01 484.93,53.41 485.15,48.61 485.37,60.02 485.59,64.59 485.81,52.29 486.03,58.52 486.26,57.13 486.48,23.40 486.70,53.57 486.92,61.08 487.14,62.24 487.36,52.25 487.59,67.85 487.81,58.46 488.03,63.26 488.25,63.24 488.47,59.75 488.69,67.79 488.92,58.34 489.14,62.74 489.36,60.48 489.58,60.15 489.80,50.83 490.02,64.68 490.25,58.79 490.47,60.88 490.69,59.76 490.91,57.98 491.13,63.33 491.35,58.78 491.58,78.00 491.80,63.18 492.02,63.16 492.24,63.88 492.46,60.03 492.68,60.29 492.91,56.21 493.13,66.64 493.35,55.34 493.57,66.95 493.79,61.25 494.02,67.51 494.24,66.23 494.46,66.16 494.68,60.02 494.90,56.53 495.12,67.98 495.35,54.57 495.57,52.33 495.79,56.82 496.01,56.88 496.23,54.14 496.45,57.66 496.68,61.50 496.90,49.37 497.12,70.25 497.34,57.13 497.56,59.96 497.78,49.68 498.01,63.76 498.23,60.14 498.45,53.76 498.67,62.98 498.89,54.11 499.11,55.04 499.34,58.97 499.56,62.06 499.78,56.31 500.00,52.40 500.22,59.21 500.44,50.99 500.67,54.84 500.89,53.84 501.11,57.53 501.33,57.28 501.55,41.00 501.77,58.51 502.00,67.65 502.22,55.55 502.44,41.70 502.66,55.44 502.88,54.65 503.10,55.16 503.33,53.09 503.55,57.09 503.77,63.42 503.99,61.69 504.21,59.70 504.43,65.56 504.66,60.82 504.88,47.46 505.10,51.84 505.32,53.78 505.54,55.36 505.76,59.27 505.99,56.55 506.21,60.71 506.43,63.45 506.65,61.08 506.87,59.75 507.09,61.56 507.32,59.49 507.54,61.95 507.76,57.18 507.98,52.56 508.20,56.14 508.42,53.28 508.65,53.82 508.87,59.93 509.09,66.92 509.31,57.69 509.53,57.98 509.75,58.25 509.98,58.18 510.20,51.35 510.42,47.75 510.64,63.91 510.86,58.17 511.08,51.30 511.31,55.76 511.53,48.85 511.75,57.07 511.97,58.06 512.19,50.50 512.41,34.70 512.64,61.84 512.86,65.91 513.08,63.38 513.30,59.01 513.52,90.00 513.74,59.28 513.97,57.49 514.19,61.40 514.41,65.54 514.63,66.21 514.85,58.68 515.07,58.66 515.30,52.15 515.52,61.17 515.74,55.68 515.96,56.96 516.18,52.22 516.40,63.85 516.63,53.09 516.85,55.74 517.07,53.29 517.29,66.58 517.51,51.14 517.73,60.81 517.96,50.26 518.18,58.64 518.40,59.75 518.62,53.25 518.84,54.95 519.06,53.83 519.29,57.90 519.51,59.45 519.73,62.85 519.95,52.42 520.17,48.83 520.39,60.98 520.62,52.45 520.84,56.04 521.06,46.06 521.28,55.28 521.50,54.74 521.72,56.62 521.95,53.02 522.17,61.88 522.39,55.74 522.61,59.72 522.83,67.42 523.05,55.24 523.28,56.77 523.50,60.16 523.72,55.03 523.94,49.05 524.16,52.77 524.38,52.90 524.61,55.28 524.83,52.44 525.05,59.40 525.27,56.99 525.49,54.81 525.71,53.56 525.94,54.88 526.16,57.55 526.38,58.94 526.60,60.09 526.82,60.12 527.04,61.59 527.27,61.61 527.49,57.64 527.71,61.54 527.93,59.12 528.15,61.51 528.37,55.07 528.60,62.46 528.82,64.34 529.04,64.64 529.26,63.18 529.48,46.00 529.70,61.51 529.93,62.67 530.15,60.08 530.37,60.20 530.59,58.20 530.81,52.65 531.03,57.64 531.26,58.26 531.48,63.36 531.70,54.86"/>
<g stroke="#7d7d7d" stroke-width="1.6"><line x1="29.70" y1="139.60" x2="181.80" y2="139.60"/><line x1="29.70" y1="152.40" x2="181.80" y2="152.40"/><line x1="29.70" y1="165.20" x2="181.80" y2="165.20"/><line x1="29.70" y1="178.00" x2="181.80" y2="178.00"/><line x1="29.70" y1="190.80" x2="181.80" y2="190.80"/><line x1="29.70" y1="203.60" x2="181.80" y2="203.60"/><line x1="29.70" y1="216.40" x2="181.80" y2="216.40"/></g>
<line x1="30.50" y1="138.70" x2="30.50" y2="217.30" stroke="#7d7d7d" stroke-width="1.6"/>
<g font-size="4.7" font-weight="bold" fill="#595959" text-anchor="end"><text x="25.70" y="141.20">0.04</text><text x="25.70" y="154.00">0.025</text><text x="25.70" y="166.80">0.01</text><text x="25.70" y="179.60">&#8722;0.005</text><text x="25.70" y="192.40">&#8722;0.02</text><text x="25.70" y="205.20">&#8722;0.035</text><text x="25.70" y="218.00">&#8722;0.05</text></g>
<g font-size="4.6" font-weight="bold" fill="#595959" text-anchor="end"><text transform="translate(33.30,219.60) rotate(-90)">Mar-20</text><text transform="translate(44.45,219.60) rotate(-90)">Jun-20</text><text transform="translate(55.60,219.60) rotate(-90)">Sep-20</text><text transform="translate(66.75,219.60) rotate(-90)">Dec-20</text><text transform="translate(77.90,219.60) rotate(-90)">Mar-21</text><text transform="translate(89.05,219.60) rotate(-90)">Jun-21</text><text transform="translate(100.20,219.60) rotate(-90)">Sep-21</text><text transform="translate(111.35,219.60) rotate(-90)">Dec-21</text><text transform="translate(122.50,219.60) rotate(-90)">Mar-22</text><text transform="translate(133.65,219.60) rotate(-90)">Jun-22</text><text transform="translate(144.80,219.60) rotate(-90)">Sep-22</text><text transform="translate(155.95,219.60) rotate(-90)">Dec-22</text><text transform="translate(167.10,219.60) rotate(-90)">Mar-23</text><text transform="translate(178.25,219.60) rotate(-90)">Jun-23</text></g>
<text x="98.50" y="130.90" font-size="6.6" font-weight="bold" fill="#404040" text-anchor="middle" textLength="17.5" lengthAdjust="spacingAndGlyphs">Qatar</text>
<polyline fill="none" stroke="#0c2274" stroke-width="0.65" stroke-linejoin="round" points="30.80,203.00 31.02,188.17 31.24,168.19 31.47,146.00 31.69,146.40 31.91,197.52 32.13,167.08 32.35,173.74 32.58,199.80 32.80,150.00 33.02,167.06 33.24,178.89 33.46,195.00 33.69,180.43 33.91,169.21 34.13,173.95 34.35,173.21 34.57,152.00 34.79,190.00 35.02,178.92 35.24,176.73 35.46,174.94 35.68,171.74 35.90,171.66 36.13,171.67 36.35,179.91 36.57,200.00 36.79,174.07 37.01,171.37 37.24,173.25 37.46,169.50 37.68,172.44 37.90,170.57 38.12,176.24 38.35,173.97 38.57,175.41 38.79,177.92 39.01,174.65 39.23,174.26 39.46,174.98 39.68,169.92 39.90,174.39 40.12,174.67 40.34,180.94 40.57,178.53 40.79,177.84 41.01,163.78 41.23,171.40 41.45,174.09 41.68,170.70 41.90,176.16 42.12,178.56 42.34,175.69 42.56,175.54 42.78,173.72 43.01,180.88 43.23,173.28 43.45,173.04 43.67,175.44 43.89,170.18 44.12,173.91 44.34,165.97 44.56,173.68 44.78,169.28 45.00,172.05 45.23,177.58 45.45,174.02 45.67,187.86 45.89,162.82 46.11,162.79 46.34,178.82 46.56,172.27 46.78,175.17 47.00,178.76 47.22,173.14 47.45,174.34 47.67,174.32 47.89,171.13 48.11,172.68 48.33,171.88 48.56,174.27 48.78,174.70 49.00,173.63 49.22,176.80 49.44,174.14 49.67,176.79 49.89,177.20 50.11,175.96 50.33,171.77 50.55,170.30 50.77,178.85 51.00,182.52 51.22,171.29 51.44,182.73 51.66,180.81 51.88,170.38 52.11,175.76 52.33,179.85 52.55,176.46 52.77,170.48 52.99,176.99 53.22,176.31 53.44,175.17 53.66,183.45 53.88,168.39 54.10,179.52 54.33,183.18 54.55,177.87 54.77,172.19 54.99,171.89 55.21,172.81 55.44,173.99 55.66,168.25 55.88,174.98 56.10,175.51 56.32,179.65 56.55,177.97 56.77,177.31 56.99,168.25 57.21,173.20 57.43,170.75 57.66,187.00 57.88,187.90 58.10,174.37 58.32,164.42 58.54,160.04 58.76,173.75 58.99,175.53 59.21,160.56 59.43,178.85 59.65,164.49 59.87,172.95 60.10,171.86 60.32,182.17 60.54,169.88 60.76,175.28 60.98,179.94 61.21,171.41 61.43,182.03 61.65,168.49 61.87,171.07 62.09,171.01 62.32,169.19 62.54,171.67 62.76,175.43 62.98,167.61 63.20,169.18 63.43,167.65 63.65,162.69 63.87,163.11 64.09,170.16 64.31,180.40 64.54,182.11 64.76,186.18 64.98,173.21 65.20,172.13 65.42,174.13 65.65,178.59 65.87,188.40 66.09,172.61 66.31,173.03 66.53,169.43 66.75,175.15 66.98,169.82 67.20,173.40 67.42,167.78 67.64,173.89 67.86,178.27 68.09,179.78 68.31,169.63 68.53,175.60 68.75,178.14 68.97,174.00 69.20,183.03 69.42,171.15 69.64,168.92 69.86,176.49 70.08,171.26 70.31,167.40 70.53,172.45 70.75,165.35 70.97,175.44 71.19,174.03 71.42,171.28 71.64,169.95 71.86,161.18 72.08,180.75 72.30,173.63 72.53,188.60 72.75,173.59 72.97,181.36 73.19,168.91 73.41,159.00 73.64,174.56 73.86,176.88 74.08,168.70 74.30,173.20 74.52,170.56 74.74,183.88 74.97,184.13 75.19,178.72 75.41,174.11 75.63,174.20 75.85,172.19 76.08,178.87 76.30,173.21 76.52,175.60 76.74,183.85 76.96,175.08 77.19,170.56 77.41,173.65 77.63,173.36 77.85,171.11 78.07,170.00 78.30,173.84 78.52,172.61 78.74,177.38 78.96,170.39 79.18,175.00 79.41,150.60 79.63,175.86 79.85,181.45 80.07,165.89 80.29,173.04 80.52,169.39 80.74,176.30 80.96,178.24 81.18,176.27 81.40,176.16 81.63,174.26 81.85,172.93 82.07,173.44 82.29,173.00 82.51,172.51 82.73,170.24 82.96,175.31 83.18,176.95 83.40,171.70 83.62,177.88 83.84,176.10 84.07,167.20 84.29,171.89 84.51,160.50 84.73,184.00 84.95,177.27 85.18,175.21 85.40,172.59 85.62,175.71 85.84,172.86 86.06,167.11 86.29,176.20 86.51,174.89 86.73,174.91 86.95,176.21 87.17,167.88 87.40,172.28 87.62,176.99 87.84,177.36 88.06,171.65 88.28,178.84 88.51,177.35 88.73,169.30 88.95,174.84 89.17,169.75 89.39,179.26 89.62,176.92 89.84,173.75 90.06,174.42 90.28,175.83 90.50,173.90 90.72,177.05 90.95,177.10 91.17,174.11 91.39,175.35 91.61,173.97 91.83,173.64 92.06,173.94 92.28,175.85 92.50,175.42 92.72,174.78 92.94,177.28 93.17,180.58 93.39,174.71 93.61,173.75 93.83,174.63 94.05,176.15 94.28,172.80 94.50,174.24 94.72,174.60 94.94,172.95 95.16,169.91 95.39,172.99 95.61,178.80 95.83,172.35 96.05,172.96 96.27,174.23 96.50,169.84 96.72,173.10 96.94,171.80 97.16,175.21 97.38,176.19 97.61,176.52 97.83,173.17 98.05,173.37 98.27,174.07 98.49,171.18 98.71,174.61 98.94,174.80 99.16,174.70 99.38,174.83 99.60,171.08 99.82,178.24 100.05,176.97 100.27,182.45 100.49,170.29 100.71,176.57 100.93,178.03 101.16,175.86 101.38,174.25 101.60,180.02 101.82,171.57 102.04,174.21 102.27,175.52 102.49,169.25 102.71,173.61 102.93,175.55 103.15,172.17 103.38,178.12 103.60,182.53 103.82,172.79 104.04,180.32 104.26,169.93 104.49,170.36 104.71,174.20 104.93,174.32 105.15,179.28 105.37,173.09 105.60,173.90 105.82,174.35 106.04,168.62 106.26,173.57 106.48,197.00 106.70,174.96 106.93,166.70 107.15,176.51 107.37,173.64 107.59,178.73 107.81,168.71 108.04,173.27 108.26,172.17 108.48,174.78 108.70,176.16 108.92,174.44 109.15,169.83 109.37,172.10 109.59,175.18 109.81,179.53 110.03,177.85 110.26,173.00 110.48,177.04 110.70,175.93 110.92,183.63 111.14,172.39 111.37,172.85 111.59,176.02 111.81,167.98 112.03,161.57 112.25,171.53 112.48,173.79 112.70,170.76 112.92,177.88 113.14,178.48 113.36,172.82 113.59,182.17 113.81,179.27 114.03,175.51 114.25,171.56 114.47,171.73 114.69,183.99 114.92,181.90 115.14,172.95 115.36,167.52 115.58,172.52 115.80,172.71 116.03,178.28 116.25,171.44 116.47,172.37 116.69,176.77 116.91,175.23 117.14,173.81 117.36,174.85 117.58,184.19 117.80,175.07 118.02,171.38 118.25,168.67 118.47,182.49 118.69,173.25 118.91,171.79 119.13,161.26 119.36,182.22 119.58,153.40 119.80,182.79 120.02,185.34 120.24,179.42 120.47,171.36 120.69,174.66 120.91,168.37 121.13,169.91 121.35,171.50 121.58,176.65 121.80,174.31 122.02,175.19 122.24,175.47 122.46,169.22 122.68,171.33 122.91,173.77 123.13,175.53 123.35,166.64 123.57,150.60 123.79,178.47 124.02,173.33 124.24,182.31 124.46,175.59 124.68,180.83 124.90,176.36 125.13,164.18 125.35,178.71 125.57,180.70 125.79,174.03 126.01,184.17 126.24,177.61 126.46,194.00 126.68,170.03 126.90,172.31 127.12,172.86 127.35,177.65 127.57,179.70 127.79,173.90 128.01,175.79 128.23,172.78 128.46,172.12 128.68,172.76 128.90,172.46 129.12,173.31 129.34,174.58 129.57,170.58 129.79,169.81 130.01,172.08 130.23,161.69 130.45,173.66 130.67,171.33 130.90,166.96 131.12,184.94 131.34,168.64 131.56,204.00 131.78,153.72 132.01,175.61 132.23,167.22 132.45,171.07 132.67,172.24 132.89,166.03 133.12,175.48 133.34,175.72 133.56,146.40 133.78,173.14 134.00,177.19 134.23,181.12 134.45,147.80 134.67,187.58 134.89,175.57 135.11,171.76 135.34,175.37 135.56,172.57 135.78,174.71 136.00,174.16 136.22,186.46 136.45,178.38 136.67,176.31 136.89,184.85 137.11,179.34 137.33,169.34 137.56,169.63 137.78,182.18 138.00,176.23 138.22,177.18 138.44,179.12 138.66,174.56 138.89,170.91 139.11,187.46 139.33,185.31 139.55,175.08 139.77,181.02 140.00,173.64 140.22,181.70 140.44,175.87 140.66,176.98 140.88,177.44 141.11,186.31 141.33,181.37 141.55,170.87 141.77,166.02 141.99,175.83 142.22,192.70 142.44,160.34 142.66,171.31 142.88,174.17 143.10,181.90 143.33,182.96 143.55,171.95 143.77,173.79 143.99,173.09 144.21,170.39 144.44,145.00 144.66,173.25 144.88,169.74 145.10,181.75 145.32,174.91 145.55,177.21 145.77,176.33 145.99,174.10 146.21,180.57 146.43,180.15 146.65,175.84 146.88,177.26 147.10,165.35 147.32,193.63 147.54,182.67 147.76,186.86 147.99,175.92 148.21,166.60 148.43,173.55 148.65,174.28 148.87,184.59 149.10,171.96 149.32,175.74 149.54,180.78 149.76,175.76 149.98,175.17 150.21,173.50 150.43,178.21 150.65,175.53 150.87,170.12 151.09,185.18 151.32,167.83 151.54,174.77 151.76,170.87 151.98,176.23 152.20,181.75 152.43,194.00 152.65,195.60 152.87,174.13 153.09,171.45 153.31,183.62 153.54,169.14 153.76,171.43 153.98,165.95 154.20,180.96 154.42,174.08 154.64,168.26 154.87,173.41 155.09,180.94 155.31,177.30 155.53,150.60 155.75,175.28 155.98,170.06 156.20,176.42 156.42,191.23 156.64,173.91 156.86,188.07 157.09,170.11 157.31,171.07 157.53,152.00 157.75,164.06 157.97,170.71 158.20,174.53 158.42,191.40 158.64,152.88 158.86,167.71 159.08,178.82 159.31,178.31 159.53,186.33 159.75,155.88 159.97,184.77 160.19,170.95 160.42,178.83 160.64,185.94 160.86,179.44 161.08,173.33 161.30,170.71 161.53,176.94 161.75,172.81 161.97,179.47 162.19,161.20 162.41,178.45 162.63,166.70 162.86,170.54 163.08,171.03 163.30,192.73 163.52,179.26 163.74,168.29 163.97,182.22 164.19,175.83 164.41,160.36 164.63,166.26 164.85,175.43 165.08,172.16 165.30,175.99 165.52,181.02 165.74,168.96 165.96,192.32 166.19,170.82 166.41,180.60 166.63,166.59 166.85,173.15 167.07,167.65 167.30,169.58 167.52,168.43 167.74,183.07 167.96,172.38 168.18,174.49 168.41,157.70 168.63,173.64 168.85,168.75 169.07,166.63 169.29,178.98 169.52,169.45 169.74,183.24 169.96,177.91 170.18,177.79 170.40,170.97 170.62,170.23 170.85,170.44 171.07,175.71 171.29,170.09 171.51,188.76 171.73,168.13 171.96,180.69 172.18,179.08 172.40,172.89 172.62,164.31 172.84,177.89 173.07,160.09 173.29,170.24 173.51,180.23 173.73,184.72 173.95,175.15 174.18,173.02 174.40,173.05 174.62,179.63 174.84,179.41 175.06,193.58 175.29,170.70 175.51,177.34 175.73,172.30 175.95,165.15 176.17,177.34 176.40,179.57 176.62,178.71 176.84,157.76 177.06,171.97 177.28,176.19 177.51,170.48 177.73,179.56 177.95,178.87 178.17,164.88 178.39,166.23 178.61,188.44 178.84,167.87 179.06,182.33 179.28,166.74 179.50,166.87 179.72,165.25 179.95,168.95 180.17,180.56 180.39,173.24 180.61,183.62 180.83,186.11 181.06,174.17 181.28,159.94 181.50,184.39"/>
<g stroke="#7d7d7d" stroke-width="1.6"><line x1="202.20" y1="139.60" x2="356.80" y2="139.60"/><line x1="202.20" y1="154.96" x2="356.80" y2="154.96"/><line x1="202.20" y1="170.32" x2="356.80" y2="170.32"/><line x1="202.20" y1="185.68" x2="356.80" y2="185.68"/><line x1="202.20" y1="201.04" x2="356.80" y2="201.04"/><line x1="202.20" y1="216.40" x2="356.80" y2="216.40"/></g>
<line x1="203.00" y1="138.70" x2="203.00" y2="217.30" stroke="#7d7d7d" stroke-width="1.6"/>
<g font-size="4.7" font-weight="bold" fill="#595959" text-anchor="end"><text x="198.10" y="141.20">0.04</text><text x="198.10" y="156.56">0.02</text><text x="198.10" y="171.92">0</text><text x="198.10" y="187.28">&#8722;0.02</text><text x="198.10" y="202.64">&#8722;0.04</text><text x="198.10" y="218.00">&#8722;0.06</text></g>
<g font-size="4.6" font-weight="bold" fill="#595959" text-anchor="end"><text transform="translate(205.10,219.80) rotate(-90)">12-Mar</text><text transform="translate(216.50,219.80) rotate(-90)">12-Jun</text><text transform="translate(227.90,219.80) rotate(-90)">12-Sep</text><text transform="translate(239.30,219.80) rotate(-90)">12-Dec</text><text transform="translate(250.70,219.80) rotate(-90)">12-Mar</text><text transform="translate(262.10,219.80) rotate(-90)">12-Jun</text><text transform="translate(273.50,219.80) rotate(-90)">12-Sep</text><text transform="translate(284.90,219.80) rotate(-90)">12-Dec</text><text transform="translate(296.30,219.80) rotate(-90)">12-Mar</text><text transform="translate(307.70,219.80) rotate(-90)">12-Jun</text><text transform="translate(319.10,219.80) rotate(-90)">12-Sep</text><text transform="translate(330.50,219.80) rotate(-90)">12-Dec</text><text transform="translate(341.90,219.80) rotate(-90)">12-Mar</text><text transform="translate(353.30,219.80) rotate(-90)">12-Jun</text></g>
<text x="273.70" y="130.80" font-size="6.6" font-weight="bold" fill="#404040" text-anchor="middle" textLength="40" lengthAdjust="spacingAndGlyphs">Saudi Arabia</text>
<polyline fill="none" stroke="#0c2274" stroke-width="0.65" stroke-linejoin="round" points="203.30,153.67 203.52,145.60 203.74,162.34 203.97,187.22 204.19,165.06 204.41,192.00 204.63,142.80 204.85,188.00 205.07,173.32 205.30,166.83 205.52,146.00 205.74,165.55 205.96,153.60 206.18,163.10 206.40,185.00 206.63,170.61 206.85,168.97 207.07,164.45 207.29,168.17 207.51,150.00 207.73,182.00 207.96,170.26 208.18,171.25 208.40,155.00 208.62,170.45 208.84,155.49 209.06,174.48 209.29,161.76 209.51,144.20 209.73,216.30 209.95,169.17 210.17,153.34 210.39,180.00 210.62,166.28 210.84,171.42 211.06,179.44 211.28,178.93 211.50,158.00 211.72,165.57 211.95,177.50 212.17,188.13 212.39,151.00 212.61,171.42 212.83,171.53 213.06,174.89 213.28,178.65 213.50,175.80 213.72,174.39 213.94,171.94 214.16,179.64 214.39,171.82 214.61,169.64 214.83,170.07 215.05,167.42 215.27,175.05 215.49,171.76 215.72,167.55 215.94,168.26 216.16,162.41 216.38,174.54 216.60,172.19 216.82,169.39 217.05,173.66 217.27,172.24 217.49,173.01 217.71,171.82 217.93,166.24 218.15,167.92 218.38,171.94 218.60,173.69 218.82,172.59 219.04,175.08 219.26,171.58 219.48,171.85 219.71,171.30 219.93,171.83 220.15,172.58 220.37,167.99 220.59,166.77 220.81,173.54 221.04,169.25 221.26,169.46 221.48,174.00 221.70,169.70 221.92,164.77 222.15,168.96 222.37,171.23 222.59,172.13 222.81,169.45 223.03,169.74 223.25,168.67 223.48,167.69 223.70,169.56 223.92,169.72 224.14,174.33 224.36,169.65 224.58,168.75 224.81,165.43 225.03,168.54 225.25,164.63 225.47,171.80 225.69,166.21 225.91,168.42 226.14,168.06 226.36,162.74 226.58,165.31 226.80,167.21 227.02,171.90 227.24,172.85 227.47,171.58 227.69,169.26 227.91,176.91 228.13,177.52 228.35,173.65 228.57,165.70 228.80,164.42 229.02,165.47 229.24,168.28 229.46,169.52 229.68,169.47 229.90,172.33 230.13,171.80 230.35,162.74 230.57,172.90 230.79,166.72 231.01,171.74 231.24,174.54 231.46,201.80 231.68,168.39 231.90,172.51 232.12,171.58 232.34,170.39 232.57,167.93 232.79,166.25 233.01,172.78 233.23,169.88 233.45,151.80 233.67,170.57 233.90,169.60 234.12,173.19 234.34,169.20 234.56,166.53 234.78,174.01 235.00,180.46 235.23,174.83 235.45,170.74 235.67,171.98 235.89,179.81 236.11,174.86 236.33,176.39 236.56,168.27 236.78,169.12 237.00,166.00 237.22,169.45 237.44,170.53 237.66,173.41 237.89,162.21 238.11,172.95 238.33,168.11 238.55,183.50 238.77,171.64 238.99,171.37 239.22,158.73 239.44,172.18 239.66,173.98 239.88,174.12 240.10,170.15 240.33,171.36 240.55,171.83 240.77,172.90 240.99,171.07 241.21,161.65 241.43,170.40 241.66,163.07 241.88,173.25 242.10,168.79 242.32,172.67 242.54,176.73 242.76,172.82 242.99,160.44 243.21,171.39 243.43,164.73 243.65,174.82 243.87,167.00 244.09,166.46 244.32,161.61 244.54,173.06 244.76,161.24 244.98,168.53 245.20,167.62 245.42,168.29 245.65,163.47 245.87,158.80 246.09,164.63 246.31,165.22 246.53,170.93 246.75,172.77 246.98,169.31 247.20,170.68 247.42,180.00 247.64,169.32 247.86,169.59 248.08,173.26 248.31,173.59 248.53,176.92 248.75,172.33 248.97,169.17 249.19,173.72 249.42,176.42 249.64,176.07 249.86,167.26 250.08,181.72 250.30,182.16 250.52,149.80 250.75,173.55 250.97,169.52 251.19,167.85 251.41,173.89 251.63,174.16 251.85,172.83 252.08,168.35 252.30,170.69 252.52,172.12 252.74,171.78 252.96,169.48 253.18,168.88 253.41,165.07 253.63,172.94 253.85,173.83 254.07,166.23 254.29,173.81 254.51,151.20 254.74,168.52 254.96,169.60 255.18,168.97 255.40,163.26 255.62,171.06 255.84,166.86 256.07,173.31 256.29,171.73 256.51,174.50 256.73,166.26 256.95,172.50 257.17,169.29 257.40,163.71 257.62,168.78 257.84,170.22 258.06,169.46 258.28,170.37 258.51,167.99 258.73,168.03 258.95,170.91 259.17,174.28 259.39,162.40 259.61,171.30 259.84,165.74 260.06,174.11 260.28,171.94 260.50,158.89 260.72,168.73 260.94,174.26 261.17,180.97 261.39,181.53 261.61,178.75 261.83,174.97 262.05,171.95 262.27,174.29 262.50,184.29 262.72,175.68 262.94,176.83 263.16,171.63 263.38,174.48 263.60,175.64 263.83,172.28 264.05,168.48 264.27,175.69 264.49,171.54 264.71,173.79 264.93,163.22 265.16,169.49 265.38,169.49 265.60,174.59 265.82,172.41 266.04,172.96 266.26,166.99 266.49,163.86 266.71,170.36 266.93,164.89 267.15,172.83 267.37,179.95 267.60,171.12 267.82,170.00 268.04,162.29 268.26,170.08 268.48,174.85 268.70,170.72 268.93,178.65 269.15,173.70 269.37,170.99 269.59,169.07 269.81,173.46 270.03,175.30 270.26,172.17 270.48,168.42 270.70,170.43 270.92,169.44 271.14,169.50 271.36,176.75 271.59,164.04 271.81,171.57 272.03,177.24 272.25,172.71 272.47,178.55 272.69,172.68 272.92,182.54 273.14,172.13 273.36,166.72 273.58,173.28 273.80,179.70 274.02,170.15 274.25,170.01 274.47,175.04 274.69,168.06 274.91,172.46 275.13,173.11 275.35,175.48 275.58,171.47 275.80,175.00 276.02,166.45 276.24,169.91 276.46,166.26 276.69,172.64 276.91,173.21 277.13,172.74 277.35,167.92 277.57,153.43 277.79,169.25 278.02,169.10 278.24,185.56 278.46,173.85 278.68,175.78 278.90,173.81 279.12,176.17 279.35,167.83 279.57,175.76 279.79,165.36 280.01,167.81 280.23,180.19 280.45,151.80 280.68,187.23 280.90,174.84 281.12,168.08 281.34,171.76 281.56,206.00 281.78,179.15 282.01,170.74 282.23,170.66 282.45,189.59 282.67,169.35 282.89,173.97 283.11,168.38 283.34,166.89 283.56,167.68 283.78,167.20 284.00,170.86 284.22,168.73 284.45,160.95 284.67,166.06 284.89,170.56 285.11,172.51 285.33,169.92 285.55,175.36 285.78,167.50 286.00,179.93 286.22,169.60 286.44,169.06 286.66,167.12 286.88,167.95 287.11,170.48 287.33,167.92 287.55,172.01 287.77,175.35 287.99,163.74 288.21,171.27 288.44,172.38 288.66,183.24 288.88,167.63 289.10,160.44 289.32,176.53 289.54,171.71 289.77,170.84 289.99,158.96 290.21,172.06 290.43,169.74 290.65,174.34 290.87,168.05 291.10,171.50 291.32,175.81 291.54,172.66 291.76,172.62 291.98,169.16 292.20,168.29 292.43,170.05 292.65,166.59 292.87,165.08 293.09,171.10 293.31,169.73 293.54,169.51 293.76,167.74 293.98,167.26 294.20,172.85 294.42,168.64 294.64,162.82 294.87,171.57 295.09,176.99 295.31,166.50 295.53,169.55 295.75,170.81 295.97,166.33 296.20,172.54 296.42,171.98 296.64,165.64 296.86,179.66 297.08,167.40 297.30,174.15 297.53,167.87 297.75,167.45 297.97,157.55 298.19,169.35 298.41,166.62 298.63,172.88 298.86,162.44 299.08,158.40 299.30,174.48 299.52,163.97 299.74,170.39 299.96,168.52 300.19,177.45 300.41,161.25 300.63,170.09 300.85,172.16 301.07,168.48 301.29,180.41 301.52,149.80 301.74,170.92 301.96,172.07 302.18,168.36 302.40,199.00 302.63,176.89 302.85,175.18 303.07,182.89 303.29,168.31 303.51,170.77 303.73,171.12 303.96,161.09 304.18,167.54 304.40,174.42 304.62,169.09 304.84,169.23 305.06,171.56 305.29,157.76 305.51,150.00 305.73,168.57 305.95,172.56 306.17,154.78 306.39,203.00 306.62,150.00 306.84,167.86 307.06,168.89 307.28,171.04 307.50,160.68 307.72,168.83 307.95,171.48 308.17,169.23 308.39,178.78 308.61,172.85 308.83,173.00 309.05,171.76 309.28,168.89 309.50,164.76 309.72,169.42 309.94,170.26 310.16,162.80 310.38,158.16 310.61,169.94 310.83,167.01 311.05,170.27 311.27,162.12 311.49,175.08 311.72,163.18 311.94,157.60 312.16,167.76 312.38,163.08 312.60,173.03 312.82,175.52 313.05,174.87 313.27,166.43 313.49,159.72 313.71,166.59 313.93,171.04 314.15,169.06 314.38,167.60 314.60,182.18 314.82,170.39 315.04,164.16 315.26,163.11 315.48,166.49 315.71,176.39 315.93,170.74 316.15,182.04 316.37,163.14 316.59,168.37 316.81,160.08 317.04,174.40 317.26,182.36 317.48,190.50 317.70,169.52 317.92,173.07 318.14,169.39 318.37,170.49 318.59,159.96 318.81,167.85 319.03,168.76 319.25,168.67 319.47,174.09 319.70,169.05 319.92,183.28 320.14,169.77 320.36,179.47 320.58,154.00 320.81,166.80 321.03,157.96 321.25,173.70 321.47,171.46 321.69,165.53 321.91,171.86 322.14,178.71 322.36,186.10 322.58,174.14 322.80,175.42 323.02,178.23 323.24,169.02 323.47,168.61 323.69,174.07 323.91,170.52 324.13,172.09 324.35,166.91 324.57,171.59 324.80,170.90 325.02,167.18 325.24,172.13 325.46,175.16 325.68,160.64 325.90,168.45 326.13,168.32 326.35,171.73 326.57,172.97 326.79,176.79 327.01,169.08 327.23,165.66 327.46,192.00 327.68,192.00 327.90,171.01 328.12,165.42 328.34,184.31 328.56,167.02 328.79,168.80 329.01,175.80 329.23,178.20 329.45,157.00 329.67,173.83 329.90,175.40 330.12,163.34 330.34,177.55 330.56,170.02 330.78,174.59 331.00,167.41 331.23,166.73 331.45,170.83 331.67,178.91 331.89,168.72 332.11,181.57 332.33,171.72 332.56,165.26 332.78,168.50 333.00,168.97 333.22,171.82 333.44,173.46 333.66,158.48 333.89,168.53 334.11,172.30 334.33,168.93 334.55,178.60 334.77,180.91 334.99,168.23 335.22,160.61 335.44,175.00 335.66,170.30 335.88,164.01 336.10,159.81 336.32,176.80 336.55,162.96 336.77,164.26 336.99,152.80 337.21,174.08 337.43,177.38 337.65,173.93 337.88,168.66 338.10,161.74 338.32,162.82 338.54,173.94 338.76,177.72 338.99,176.08 339.21,173.97 339.43,164.37 339.65,166.60 339.87,172.30 340.09,165.18 340.32,174.95 340.54,161.99 340.76,162.25 340.98,170.38 341.20,171.06 341.42,172.39 341.65,170.43 341.87,171.39 342.09,169.49 342.31,175.32 342.53,162.72 342.75,169.85 342.98,169.55 343.20,167.31 343.42,157.00 343.64,175.24 343.86,170.04 344.08,165.02 344.31,170.19 344.53,155.10 344.75,162.56 344.97,164.78 345.19,171.75 345.41,167.93 345.64,170.63 345.86,170.07 346.08,180.26 346.30,168.35 346.52,165.03 346.74,164.31 346.97,170.11 347.19,168.51 347.41,172.28 347.63,173.92 347.85,171.27 348.08,164.64 348.30,172.86 348.52,171.78 348.74,170.68 348.96,164.32 349.18,186.13 349.41,175.33 349.63,182.27 349.85,172.08 350.07,184.15 350.29,183.10 350.51,155.00 350.74,166.08 350.96,173.67 351.18,170.56 351.40,173.71 351.62,173.98 351.84,176.67 352.07,158.06 352.29,166.56 352.51,169.82 352.73,171.90 352.95,174.50 353.17,164.47 353.40,167.18 353.62,173.95 353.84,171.14 354.06,171.26 354.28,168.38 354.50,173.14 354.73,169.67 354.95,177.03 355.17,177.36 355.39,176.88 355.61,158.22 355.83,184.50 356.06,176.63 356.28,183.50 356.50,177.07"/>
<g stroke="#7d7d7d" stroke-width="1.6"><line x1="377.60" y1="139.60" x2="532.00" y2="139.60"/><line x1="377.60" y1="152.40" x2="532.00" y2="152.40"/><line x1="377.60" y1="165.20" x2="532.00" y2="165.20"/><line x1="377.60" y1="178.00" x2="532.00" y2="178.00"/><line x1="377.60" y1="190.80" x2="532.00" y2="190.80"/><line x1="377.60" y1="203.60" x2="532.00" y2="203.60"/><line x1="377.60" y1="216.40" x2="532.00" y2="216.40"/></g>
<line x1="378.40" y1="138.70" x2="378.40" y2="217.30" stroke="#7d7d7d" stroke-width="1.6"/>
<g font-size="4.7" font-weight="bold" fill="#595959" text-anchor="end"><text x="373.30" y="141.20">0.08</text><text x="373.30" y="154.00">0.05</text><text x="373.30" y="166.80">0.02</text><text x="373.30" y="179.60">&#8722;0.01</text><text x="373.30" y="192.40">&#8722;0.04</text><text x="373.30" y="205.20">&#8722;0.07</text><text x="373.30" y="218.00">&#8722;0.1</text></g>
<g font-size="4.6" font-weight="bold" fill="#595959" text-anchor="end"><text transform="translate(380.40,219.80) rotate(-90)">12-Mar</text><text transform="translate(391.80,219.80) rotate(-90)">12-Jun</text><text transform="translate(403.20,219.80) rotate(-90)">12-Sep</text><text transform="translate(414.60,219.80) rotate(-90)">12-Dec</text><text transform="translate(426.00,219.80) rotate(-90)">12-Mar</text><text transform="translate(437.40,219.80) rotate(-90)">12-Jun</text><text transform="translate(448.80,219.80) rotate(-90)">12-Sep</text><text transform="translate(460.20,219.80) rotate(-90)">12-Dec</text><text transform="translate(471.60,219.80) rotate(-90)">12-Mar</text><text transform="translate(483.00,219.80) rotate(-90)">12-Jun</text><text transform="translate(494.40,219.80) rotate(-90)">12-Sep</text><text transform="translate(505.80,219.80) rotate(-90)">12-Dec</text><text transform="translate(517.20,219.80) rotate(-90)">12-Mar</text><text transform="translate(528.60,219.80) rotate(-90)">12-Jun</text></g>
<text x="449.00" y="130.90" font-size="6.6" font-weight="bold" fill="#404040" text-anchor="middle" textLength="12.9" lengthAdjust="spacingAndGlyphs">UAE</text>
<polyline fill="none" stroke="#0c2274" stroke-width="0.65" stroke-linejoin="round" points="378.70,145.00 378.92,206.80 379.14,178.50 379.37,180.03 379.59,162.39 379.81,184.69 380.03,172.77 380.25,163.12 380.47,150.60 380.70,166.42 380.92,176.07 381.14,171.83 381.36,169.95 381.58,191.40 381.80,169.45 382.03,189.34 382.25,174.60 382.47,182.42 382.69,148.78 382.91,179.52 383.13,181.55 383.36,194.26 383.58,150.60 383.80,165.87 384.02,169.63 384.24,180.16 384.47,191.00 384.69,170.70 384.91,164.16 385.13,182.01 385.35,176.52 385.57,187.80 385.80,166.42 386.02,175.65 386.24,171.98 386.46,159.00 386.68,153.78 386.90,160.74 387.13,182.87 387.35,166.21 387.57,175.88 387.79,176.50 388.01,163.62 388.23,175.00 388.46,177.28 388.68,169.92 388.90,178.81 389.12,173.77 389.34,168.21 389.57,172.06 389.79,167.08 390.01,170.20 390.23,170.98 390.45,172.96 390.67,174.05 390.90,174.25 391.12,173.18 391.34,174.85 391.56,173.20 391.78,173.59 392.00,177.73 392.23,178.14 392.45,169.62 392.67,172.26 392.89,178.89 393.11,177.23 393.33,172.71 393.56,175.99 393.78,165.01 394.00,176.94 394.22,178.00 394.44,167.44 394.67,171.73 394.89,174.95 395.11,173.18 395.33,164.89 395.55,174.88 395.77,167.68 396.00,176.42 396.22,176.98 396.44,169.67 396.66,177.09 396.88,176.86 397.10,179.73 397.33,175.12 397.55,170.65 397.77,171.56 397.99,173.59 398.21,167.62 398.43,177.22 398.66,175.10 398.88,171.82 399.10,179.58 399.32,172.30 399.54,172.51 399.77,178.18 399.99,173.81 400.21,169.06 400.43,174.31 400.65,175.95 400.87,171.58 401.10,175.84 401.32,175.08 401.54,168.46 401.76,171.04 401.98,172.24 402.20,181.04 402.43,170.02 402.65,173.13 402.87,170.00 403.09,165.65 403.31,182.83 403.53,175.34 403.76,165.75 403.98,174.62 404.20,177.79 404.42,172.90 404.64,177.26 404.87,173.45 405.09,169.38 405.31,168.61 405.53,171.80 405.75,173.90 405.97,167.15 406.20,172.80 406.42,168.45 406.64,175.37 406.86,172.84 407.08,170.54 407.30,181.34 407.53,181.63 407.75,171.11 407.97,177.66 408.19,181.88 408.41,174.48 408.63,175.19 408.86,176.82 409.08,169.67 409.30,169.79 409.52,171.73 409.74,173.22 409.97,166.04 410.19,171.80 410.41,178.01 410.63,174.33 410.85,175.30 411.07,168.63 411.30,163.12 411.52,169.28 411.74,174.24 411.96,169.36 412.18,181.56 412.40,162.70 412.63,176.95 412.85,177.06 413.07,168.18 413.29,174.40 413.51,188.60 413.73,190.00 413.96,166.83 414.18,162.24 414.40,171.19 414.62,183.01 414.84,173.94 415.07,167.32 415.29,169.94 415.51,168.34 415.73,171.76 415.95,169.22 416.17,172.99 416.40,170.72 416.62,170.77 416.84,170.29 417.06,173.04 417.28,174.83 417.50,179.99 417.73,169.31 417.95,169.02 418.17,173.89 418.39,163.85 418.61,174.51 418.83,173.49 419.06,173.83 419.28,176.24 419.50,177.51 419.72,171.78 419.94,173.65 420.17,171.79 420.39,168.54 420.61,172.97 420.83,176.17 421.05,164.13 421.27,172.37 421.50,169.80 421.72,171.43 421.94,168.43 422.16,171.53 422.38,169.22 422.60,177.08 422.83,174.35 423.05,175.82 423.27,170.18 423.49,172.67 423.71,172.98 423.93,174.79 424.16,171.91 424.38,173.22 424.60,170.03 424.82,180.83 425.04,173.49 425.27,175.03 425.49,164.70 425.71,174.26 425.93,173.65 426.15,174.24 426.37,172.51 426.60,176.23 426.82,180.83 427.04,174.85 427.26,179.11 427.48,172.01 427.70,173.53 427.93,175.17 428.15,171.83 428.37,170.04 428.59,167.35 428.81,172.18 429.03,174.07 429.26,174.28 429.48,172.58 429.70,176.31 429.92,167.18 430.14,176.32 430.37,171.86 430.59,173.87 430.81,176.39 431.03,169.05 431.25,173.71 431.47,174.47 431.70,173.90 431.92,171.32 432.14,176.54 432.36,170.46 432.58,174.46 432.80,173.31 433.03,170.19 433.25,169.54 433.47,177.28 433.69,172.10 433.91,171.13 434.13,168.92 434.36,173.14 434.58,172.21 434.80,170.56 435.02,173.70 435.24,176.31 435.47,180.32 435.69,174.51 435.91,175.74 436.13,169.57 436.35,167.70 436.57,168.58 436.80,176.99 437.02,175.47 437.24,169.35 437.46,173.59 437.68,165.29 437.90,175.33 438.13,166.79 438.35,179.77 438.57,170.67 438.79,169.09 439.01,178.71 439.23,175.42 439.46,171.38 439.68,175.44 439.90,169.53 440.12,170.02 440.34,165.68 440.57,163.80 440.79,167.10 441.01,171.86 441.23,172.97 441.45,181.00 441.67,172.71 441.90,174.42 442.12,163.56 442.34,175.80 442.56,170.36 442.78,170.06 443.00,174.99 443.23,173.76 443.45,177.29 443.67,174.00 443.89,171.63 444.11,172.23 444.33,176.40 444.56,176.19 444.78,168.79 445.00,171.80 445.22,174.55 445.44,172.43 445.67,170.09 445.89,175.16 446.11,169.73 446.33,174.33 446.55,177.85 446.77,173.62 447.00,171.32 447.22,177.31 447.44,174.73 447.66,169.54 447.88,172.16 448.10,180.89 448.33,170.18 448.55,173.32 448.77,163.16 448.99,172.54 449.21,173.59 449.43,177.34 449.66,169.27 449.88,172.40 450.10,175.46 450.32,176.11 450.54,168.83 450.77,165.64 450.99,176.52 451.21,168.88 451.43,171.17 451.65,168.51 451.87,178.14 452.10,174.98 452.32,174.36 452.54,157.70 452.76,166.56 452.98,179.51 453.20,173.12 453.43,176.46 453.65,179.74 453.87,168.85 454.09,172.59 454.31,169.74 454.53,170.00 454.76,183.01 454.98,177.29 455.20,172.21 455.42,173.86 455.64,177.44 455.87,177.44 456.09,171.30 456.31,173.71 456.53,197.00 456.75,172.63 456.97,172.05 457.20,166.31 457.42,180.17 457.64,171.85 457.86,166.91 458.08,175.00 458.30,176.11 458.53,162.23 458.75,176.14 458.97,173.04 459.19,173.81 459.41,174.29 459.63,178.83 459.86,163.50 460.08,174.38 460.30,181.75 460.52,168.27 460.74,171.04 460.97,171.92 461.19,179.94 461.41,172.47 461.63,182.43 461.85,172.30 462.07,173.04 462.30,175.15 462.52,173.64 462.74,169.24 462.96,175.17 463.18,172.97 463.40,174.06 463.63,172.02 463.85,165.44 464.07,176.47 464.29,170.92 464.51,165.79 464.73,172.91 464.96,173.04 465.18,169.37 465.40,176.45 465.62,169.73 465.84,175.38 466.07,177.06 466.29,173.75 466.51,171.30 466.73,177.02 466.95,168.86 467.17,167.52 467.40,173.85 467.62,170.99 467.84,178.35 468.06,165.94 468.28,171.29 468.50,175.13 468.73,182.48 468.95,177.37 469.17,173.83 469.39,173.94 469.61,171.20 469.83,174.45 470.06,169.29 470.28,176.21 470.50,181.16 470.72,165.89 470.94,170.02 471.17,183.97 471.39,172.02 471.61,169.19 471.83,170.06 472.05,168.04 472.27,176.71 472.50,173.95 472.72,176.00 472.94,174.61 473.16,173.62 473.38,170.68 473.60,177.38 473.83,176.62 474.05,173.91 474.27,172.83 474.49,172.91 474.71,171.14 474.93,171.53 475.16,175.41 475.38,173.36 475.60,169.66 475.82,173.72 476.04,176.00 476.27,170.62 476.49,163.30 476.71,198.40 476.93,173.52 477.15,175.11 477.37,177.62 477.60,172.89 477.82,175.18 478.04,174.11 478.26,174.44 478.48,178.19 478.70,174.91 478.93,175.50 479.15,175.27 479.37,175.03 479.59,172.38 479.81,175.13 480.03,172.51 480.26,168.67 480.48,172.11 480.70,176.57 480.92,178.89 481.14,171.05 481.37,173.72 481.59,184.00 481.81,175.93 482.03,179.37 482.25,173.44 482.47,168.55 482.70,176.39 482.92,170.45 483.14,173.21 483.36,171.82 483.58,171.31 483.80,171.94 484.03,169.59 484.25,174.28 484.47,169.47 484.69,171.45 484.91,174.65 485.13,173.01 485.36,171.19 485.58,177.87 485.80,179.57 486.02,174.67 486.24,168.46 486.47,172.82 486.69,170.31 486.91,169.16 487.13,172.93 487.35,175.93 487.57,181.10 487.80,178.15 488.02,177.51 488.24,172.38 488.46,179.06 488.68,171.38 488.90,176.92 489.13,172.91 489.35,165.79 489.57,173.70 489.79,172.06 490.01,171.30 490.23,172.86 490.46,175.24 490.68,171.75 490.90,172.98 491.12,169.95 491.34,174.14 491.57,173.24 491.79,176.40 492.01,172.94 492.23,172.56 492.45,172.70 492.67,173.91 492.90,177.50 493.12,171.48 493.34,170.32 493.56,172.95 493.78,172.82 494.00,173.03 494.23,174.37 494.45,173.08 494.67,174.51 494.89,177.88 495.11,171.29 495.33,181.33 495.56,173.20 495.78,167.07 496.00,172.97 496.22,170.01 496.44,176.12 496.67,174.82 496.89,171.90 497.11,180.16 497.33,176.76 497.55,172.30 497.77,170.39 498.00,178.31 498.22,172.97 498.44,177.31 498.66,169.96 498.88,177.53 499.10,173.04 499.33,173.48 499.55,169.87 499.77,172.05 499.99,169.32 500.21,173.14 500.43,170.55 500.66,174.39 500.88,174.35 501.10,175.68 501.32,171.04 501.54,171.56 501.77,172.57 501.99,173.08 502.21,170.71 502.43,170.09 502.65,171.81 502.87,170.73 503.10,167.69 503.32,175.76 503.54,164.51 503.76,174.59 503.98,164.60 504.20,173.66 504.43,174.22 504.65,173.33 504.87,170.39 505.09,171.96 505.31,173.95 505.53,169.87 505.76,170.36 505.98,172.95 506.20,172.69 506.42,173.23 506.64,175.75 506.87,175.66 507.09,171.15 507.31,170.49 507.53,165.98 507.75,178.64 507.97,176.05 508.20,173.84 508.42,174.12 508.64,172.29 508.86,173.00 509.08,174.66 509.30,173.35 509.53,174.54 509.75,173.42 509.97,175.70 510.19,171.82 510.41,170.48 510.63,171.71 510.86,172.78 511.08,175.32 511.30,175.24 511.52,169.36 511.74,179.77 511.97,171.21 512.19,173.84 512.41,173.78 512.63,175.51 512.85,168.47 513.07,177.35 513.30,170.20 513.52,171.54 513.74,176.23 513.96,176.43 514.18,168.46 514.40,170.89 514.63,172.35 514.85,175.28 515.07,169.96 515.29,172.79 515.51,173.51 515.73,172.69 515.96,173.42 516.18,177.80 516.40,177.50 516.62,175.47 516.84,173.20 517.07,171.00 517.29,164.25 517.51,179.13 517.73,177.84 517.95,177.00 518.17,169.75 518.40,176.63 518.62,171.37 518.84,176.69 519.06,174.39 519.28,177.61 519.50,164.05 519.73,173.69 519.95,170.70 520.17,169.96 520.39,171.81 520.61,174.09 520.83,174.65 521.06,175.92 521.28,175.96 521.50,178.19 521.72,175.27 521.94,176.98 522.17,170.33 522.39,173.59 522.61,174.97 522.83,170.67 523.05,173.05 523.27,172.66 523.50,173.54 523.72,167.97 523.94,173.70 524.16,171.44 524.38,166.21 524.60,166.83 524.83,175.09 525.05,175.22 525.27,178.89 525.49,176.44 525.71,168.78 525.93,171.71 526.16,175.32 526.38,171.97 526.60,174.83 526.82,172.94 527.04,172.51 527.27,174.36 527.49,173.50 527.71,172.22 527.93,173.31 528.15,173.33 528.37,171.47 528.60,173.10 528.82,170.87 529.04,170.03 529.26,174.02 529.48,168.95 529.70,172.64 529.93,171.90 530.15,169.90 530.37,171.87 530.59,174.36 530.81,174.74 531.03,170.88 531.26,170.11 531.48,175.58 531.70,172.88"/>
<line x1="274" y1="23.6" x2="274" y2="33" stroke="#7f8595" stroke-width="0.9"/>
</svg></body></html>
